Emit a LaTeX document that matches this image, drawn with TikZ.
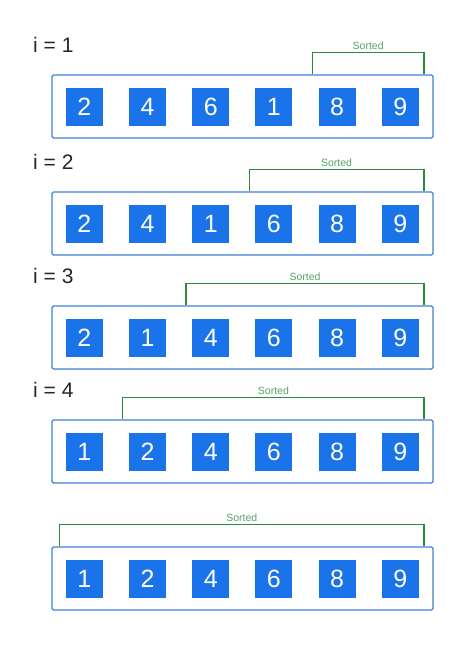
\documentclass[tikz,border=0pt]{standalone}
\usepackage{fontspec}
\setmainfont{Liberation Sans}
\usetikzlibrary{calc}

\definecolor{cellblue}{HTML}{1A73E8}
\definecolor{frameblue}{HTML}{3D7FD6}
\definecolor{sortgreen}{HTML}{2E8B3C}

\tikzset{
  frame/.style={draw=frameblue, line width=1.3pt, rounded corners=1.5pt,
    minimum width=381pt, minimum height=63pt, inner sep=0pt},
  cell/.style={fill=cellblue, text=white, minimum width=37pt, minimum height=38pt,
    inner sep=0pt, font=\fontsize{25}{25}\selectfont},
  bracket/.style={draw=sortgreen, line width=1.3pt},
  sortlabel/.style={text=sortgreen!80!white, font=\fontsize{10.5}{10.5}\selectfont, inner sep=2.5pt},
  passlabel/.style={anchor=west, inner sep=0pt, text=black!85, font=\fontsize{21}{21}\selectfont}
}

\begin{document}
\begin{tikzpicture}[x=1pt,y=-1pt]
  \useasboundingbox (0,0) rectangle (474,653);

  \foreach \r/\yc/\s/\vals in {1/106.5/5/{2,4,6,1,8,9},
                               2/223.5/4/{2,4,1,6,8,9},
                               3/337.5/3/{2,1,4,6,8,9},
                               4/451.5/2/{1,2,4,6,8,9},
                               5/578.5/1/{1,2,4,6,8,9}}{
    % array frame
    \node[frame] (f\r) at (242.5,\yc) {};
    % cells
    \foreach \v [count=\k] in \vals
      \node[cell] (r\r c\k) at ({84.3+63.2*(\k-1)},\yc+0.5) {\v};
    % sorted part
    \coordinate (bl\r) at ($(r\r c\s.west |- f\r.north)+(-6,0)$);
    \coordinate (br\r) at ($(r\r c6.east |- f\r.north)+(5,0)$);
    \draw[bracket] (bl\r) -- ++(0,-22) coordinate (bt\r) -| (br\r);
    \node[sortlabel, above] (s\r) at ($(bt\r)!0.5!(br\r |- bt\r)$) {Sorted};
    % pass number
    \ifnum\r<5
      \node[passlabel] (i\r) at (33,\yc-62) {i = \r};
    \fi
  }
\end{tikzpicture}
\end{document}
